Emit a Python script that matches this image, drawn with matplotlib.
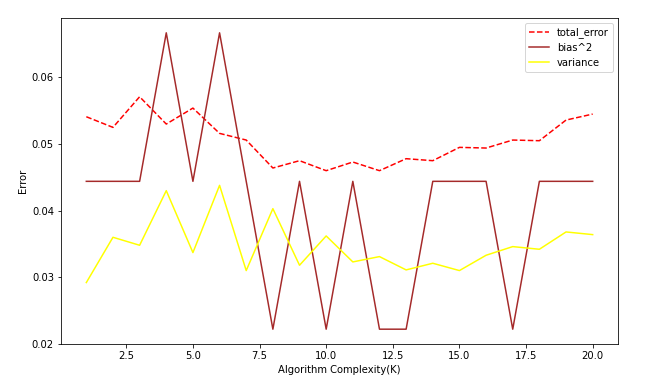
import numpy as np
import matplotlib
matplotlib.use("Agg")
import matplotlib.pyplot as plt

k = list(range(1, 21))
total_error = [0.0541, 0.0525, 0.0571, 0.0530, 0.0554, 0.0516, 0.0506, 0.0464, 0.0475, 0.0460,
               0.0473, 0.0460, 0.0478, 0.0475, 0.0495, 0.0494, 0.0506, 0.0505, 0.0536, 0.0545]
bias_sq = [0.0444, 0.0444, 0.0444, 0.0667, 0.0444, 0.0667, 0.0444, 0.0222, 0.0444, 0.0222,
           0.0444, 0.0222, 0.0222, 0.0444, 0.0444, 0.0444, 0.0222, 0.0444, 0.0444, 0.0444]
variance = [0.0292, 0.0360, 0.0348, 0.0430, 0.0337, 0.0438, 0.0310, 0.0403, 0.0318, 0.0362,
            0.0323, 0.0331, 0.0311, 0.0321, 0.0310, 0.0333, 0.0346, 0.0342, 0.0368, 0.0364]

W, H = 656, 380
fig = plt.figure(figsize=(W / 72, H / 72), dpi=72)
ax = fig.add_axes([61 / W, 36 / H, (618 - 61) / W, (344 - 18) / H])

ax.plot(k, total_error, color="red", linestyle="--", label="total_error")
ax.plot(k, bias_sq, color="brown", label="bias^2")
ax.plot(k, variance, color="yellow", label="variance")

ax.set_xlabel("Algorithm Complexity(K)")
ax.set_ylabel("Error")
ax.legend(loc="upper right")

fig.savefig("out.png", dpi=72)
